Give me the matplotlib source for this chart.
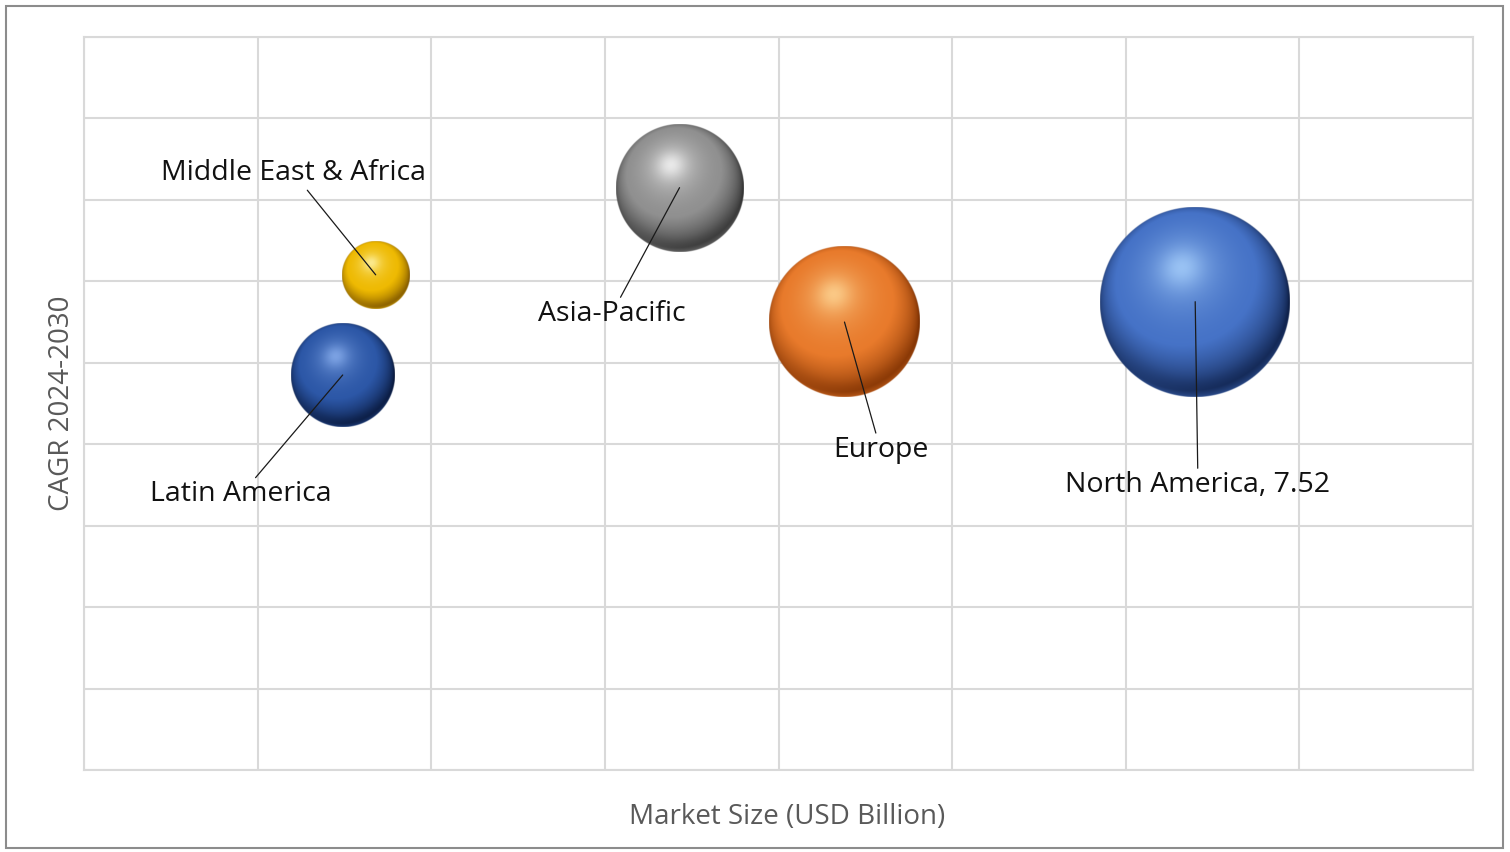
import matplotlib
matplotlib.use("Agg")
import numpy as np
import matplotlib.pyplot as plt
from matplotlib.colors import to_rgb
from matplotlib.patches import Rectangle

plt.rcParams['font.family'] = ['Open Sans', 'DejaVu Sans']

# data (grid units, no tick labels shown)
regions = ['Middle East & Africa', 'Latin America', 'Asia-Pacific', 'Europe', 'North America']
market_size = [1.68, 1.49, 3.43, 4.38, 6.40]
cagr = [6.08, 4.85, 7.15, 5.50, 5.75]
bubble_size = [0.96, 2.25, 3.41, 4.69, 7.52]
labels = ['Middle East & Africa', 'Latin America', 'Asia-Pacific', 'Europe', 'North America, 7.52']

# (edge, body, highlight) per bubble
shades = [
    ('#7a5200', '#eeb900', '#fff6b0'),
    ('#071536', '#2b56a6', '#8fb4f2'),
    ('#2e2e2e', '#8e8e8e', '#ffffff'),
    ('#7a2e00', '#e8792a', '#ffdc9c'),
    ('#0c1d44', '#4471c6', '#aed6ff'),
]
# label offsets from bubble centre, in points
label_offsets = [(-59, 73), (-73, -86), (-49, -91), (26, -92), (2, -132)]

MAX_R_PX = 95
grid_col = '#d9d9d9'

fig = plt.figure(figsize=(15.1, 8.52), dpi=100)
ax = fig.add_axes([84 / 1510, 1 - 770 / 852, 1389 / 1510, 733 / 852])
ax.set_xlim(0, 8)
ax.set_ylim(0, 9)

light_dir = np.array([-0.14, 0.36, 0.92])
light_dir = light_dir / np.linalg.norm(light_dir)


def sphere_image(r_px, edge, body, light, ss=2):
    n = int(2 * r_px * ss)
    c = (np.arange(n) + 0.5) / n * 2 - 1
    u, v = np.meshgrid(c, -c)
    rr = np.sqrt(u ** 2 + v ** 2)
    nz = np.sqrt(np.clip(1 - rr ** 2, 0, 1))
    d = np.clip(u * light_dir[0] + v * light_dir[1] + nz * light_dir[2], 0, 1)
    e, b, l = (np.array(to_rgb(k)) for k in (edge, body, light))
    f = np.clip(d * 1.5, 0, 1)[..., None] ** 0.9
    col = e + (b - e) * f
    # soft glow + highlight
    glow = (d ** 8 * 0.4 + d ** 40 * 0.4)[..., None]
    col = col + (l - col) * glow
    # light rim at the bottom edge
    rim = (np.clip(-v, 0, 1) * np.clip((rr - 0.8) / 0.2, 0, 1) ** 2 * 0.55)[..., None]
    col = col + (b - col) * rim
    alpha = np.clip((1 - rr) * r_px + 0.5, 0, 1)
    return np.dstack([np.clip(col, 0, 1), alpha])


smax = max(bubble_size)
for x, y, s, (e, b, l) in zip(market_size, cagr, bubble_size, shades):
    r_px = MAX_R_PX * (s / smax) ** 0.5
    cx, cy = ax.transData.transform((x, y))
    (x0, y0), (x1, y1) = ax.transData.inverted().transform(
        [(cx - r_px, cy - r_px), (cx + r_px, cy + r_px)])
    ax.imshow(sphere_image(r_px, e, b, l), extent=(x0, x1, y0, y1),
              aspect='auto', interpolation='antialiased', zorder=3)

for x, y, lab, (ox, oy) in zip(market_size, cagr, labels, label_offsets):
    ax.annotate(lab, xy=(x, y), xytext=(ox, oy), textcoords='offset points',
                ha='center', va='center', fontsize=20.5, color='#111111', zorder=6,
                arrowprops=dict(arrowstyle='-', color='#1a1a1a', lw=0.9,
                                shrinkA=0, shrinkB=0))

ax.set_xlim(0, 8)
ax.set_ylim(0, 9)
ax.set_xticks(range(0, 9))
ax.set_yticks(range(0, 10))
ax.set_xticklabels([])
ax.set_yticklabels([])
ax.tick_params(length=0)
ax.grid(True, color=grid_col, lw=1.5)
ax.set_axisbelow(True)
for sp in ax.spines.values():
    sp.set_color(grid_col)
    sp.set_linewidth(1.5)

ax.set_xlabel('Market Size (USD Billion)', fontsize=20, color='#595959', va='center')
ax.xaxis.set_label_coords(0.506, -0.064)
ax.set_ylabel('CAGR 2024-2030', fontsize=20, color='#595959', va='center')
ax.yaxis.set_label_coords(-0.016, 0.50)

fig.patches.append(Rectangle((6 / 1510, 4 / 852), 1497 / 1510, 842 / 852,
                             transform=fig.transFigure, fill=False,
                             ec='#8c8c8c', lw=1.5))

fig.savefig('out.png', dpi=100)
